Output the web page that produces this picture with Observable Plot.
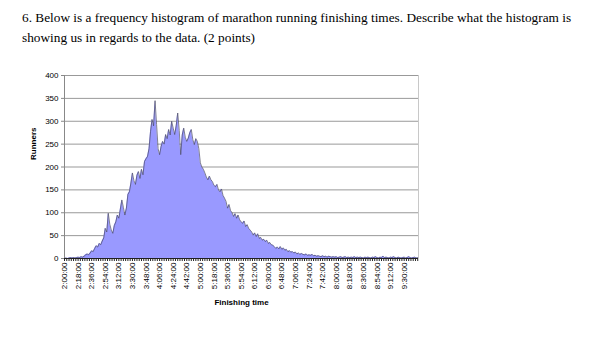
<!DOCTYPE html>
<html>
<head>
<meta charset="utf-8">
<script src="https://cdn.jsdelivr.net/npm/d3@7"></script>
<script src="https://cdn.jsdelivr.net/npm/@observablehq/plot@0.6"></script>
<style>
  html, body { margin: 0; padding: 0; background: #fff; }
  #question {
    box-sizing: border-box;
    height: 60px;
    padding: 8px 0 0 22px;
    font: 13.3px/20px "Liberation Serif", "Times New Roman", serif;
    color: #000;
  }
  #chart svg { display: block; }
</style>
</head>
<body>
<div id="question">6. Below is a frequency histogram of marathon running finishing times. Describe what the histogram is showing us in regards to the data. (2 points)</div>
<div id="chart"></div>
<script>
// Finishing-time bins: minutes after 2:00:00, sampled every 2 minutes
const startMinute = 0;
const stepMinutes = 2;
const runners = [
  0, 1, 0, 1, 2, 1, 2, 1, 2, 3, 2, 4, 3, 5, 8, 10, 8, 12, 17, 15,
  22, 28, 25, 33, 30, 38, 45, 66, 58, 99, 75, 62, 55, 72, 80, 95, 88, 108, 128, 112,
  95, 110, 140, 146, 165, 187, 170, 162, 182, 190, 175, 195, 183, 212, 218, 223, 240, 278, 304, 290,
  345, 293, 240, 227, 245, 256, 250, 271, 262, 282, 270, 300, 285, 271, 290, 318, 280, 227, 270, 285,
  265, 256, 263, 275, 282, 260, 249, 262, 256, 240, 209, 200, 195, 187, 178, 172, 180, 172, 168, 160,
  157, 162, 150, 146, 152, 138, 132, 125, 110, 118, 105, 100, 92, 98, 88, 95, 85, 80, 77, 82,
  70, 74, 66, 62, 58, 51, 56, 48, 54, 44, 46, 40, 42, 37, 40, 33, 35, 30, 29, 26,
  22, 25, 21, 26, 20, 23, 18, 20, 15, 17, 14, 15, 12, 14, 10, 12, 9, 11, 9, 8,
  10, 7, 8, 7, 9, 6, 7, 5, 6, 5, 4, 6, 4, 5, 3, 5, 4, 3, 4, 3,
  4, 2, 3, 4, 2, 3, 4, 2, 3, 2, 3, 2, 4, 2, 3, 2, 3, 2, 1, 3,
  2, 3, 2, 1, 3, 2, 4, 2, 1, 3, 2, 5, 2, 3, 2, 1, 3, 2, 4, 2,
  1, 3, 2, 1, 2, 3, 1, 2, 4, 2, 1, 2, 3, 1, 2
];

// Axis settings
const xMaxMinute = 469;
const labelTicks = d3.range(0, 451, 18);
const minorTicks = d3.range(0, xMaxMinute, 3);
const yTicks = d3.range(0, 401, 50);

const bins = runners.map((v, i) => ({minute: startMinute + i * stepMinutes, runners: v}));

const clock = (m) => {
  const h = Math.floor(m / 60) + 2;
  const mm = String(m % 60).padStart(2, "0");
  return `${h}:${mm}:00`;
};

const sans = "'Liberation Sans', Arial, sans-serif";

const chart = Plot.plot({
  width: 596,
  height: 291,
  marginLeft: 64,
  marginRight: 178,
  marginTop: 15,
  marginBottom: 93,
  style: {fontFamily: sans, fontSize: "8px", color: "#000", background: "#fff"},
  x: {domain: [0, xMaxMinute], label: null},
  y: {domain: [0, 400], label: null},
  marks: [
    Plot.gridY(yTicks, {stroke: "#999", strokeOpacity: 1, strokeWidth: 1}),
    Plot.ruleX([xMaxMinute], {stroke: "#c8c8c8"}),
    Plot.areaY(bins, {x: "minute", y: "runners", fill: "#9999ff", curve: "linear"}),
    Plot.lineY(bins, {x: "minute", y: "runners", stroke: "#4a4a66", strokeWidth: 0.7}),
    Plot.ruleX([0], {stroke: "#888"}),
    Plot.ruleY([0], {stroke: "#222"}),
    Plot.axisY(yTicks, {tickSize: 3, tickPadding: 3, stroke: "#888", fontSize: 8}),
    Plot.axisX(minorTicks, {tickSize: 3, tickFormat: () => "", stroke: "#222"}),
    Plot.axisX(labelTicks, {tickSize: 0, tickPadding: 4, tickRotate: -90, tickFormat: clock, fontSize: 8}),
    Plot.text(["Runners"], {frameAnchor: "left", dx: -31, dy: -7, rotate: -90, fontWeight: "bold", fontSize: 8}),
    Plot.text(["Finishing time"], {frameAnchor: "bottom", dy: 46, fontWeight: "bold", fontSize: 8})
  ]
});

document.getElementById("chart").appendChild(chart);
</script>
</body>
</html>
